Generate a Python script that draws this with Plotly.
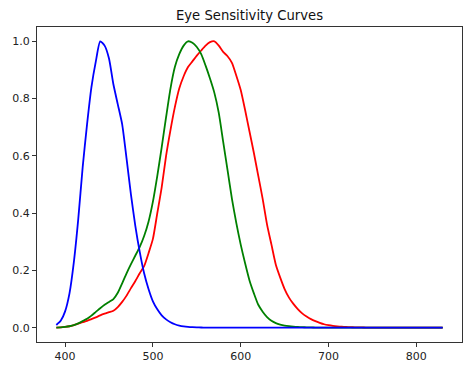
import plotly.graph_objects as go

# wavelengths (nm), 5 nm steps from 390 to 830
wavelength = list(range(390, 835, 5))

# L cone (red)
red = [0.0004, 0.001, 0.0025, 0.005, 0.009, 0.014, 0.019, 0.024, 0.030, 0.036,   # 390-435
       0.043, 0.049, 0.054, 0.059, 0.072, 0.090, 0.112, 0.138, 0.163, 0.190,      # 440-485
       0.215, 0.26, 0.31, 0.40, 0.49, 0.60, 0.69, 0.77, 0.835, 0.878,            # 490-535
       0.91, 0.93, 0.95, 0.968, 0.985, 0.997, 1.0, 0.985, 0.963, 0.948,          # 540-585
       0.925, 0.88, 0.83, 0.76, 0.685, 0.61, 0.53, 0.45, 0.36, 0.29,             # 590-635
       0.22, 0.175, 0.135, 0.105, 0.083, 0.065, 0.05, 0.039, 0.030, 0.023,       # 640-685
       0.017, 0.012, 0.0088, 0.0064, 0.0046, 0.0033, 0.0024, 0.0017, 0.0012, 0.0009,  # 690-735
       0.0006, 0.00045, 0.0003, 0.0002, 0.00015, 0.0001, 0.00007, 0.00005, 0.00004, 0.00003,  # 740-785
       0.00002, 0.000015, 0.00001, 0.000008, 0.000006, 0.000004, 0.000003, 0.000002, 0.0000015]  # 790-830

# M cone (green)
green = [0.0004, 0.001, 0.0025, 0.005, 0.009, 0.015, 0.023, 0.031, 0.042, 0.055,   # 390-435
         0.068, 0.080, 0.090, 0.100, 0.122, 0.155, 0.190, 0.222, 0.252, 0.282,     # 440-485
         0.32, 0.37, 0.44, 0.53, 0.63, 0.735, 0.835, 0.91, 0.955, 0.985,           # 490-535
         1.0, 0.995, 0.98, 0.955, 0.915, 0.87, 0.82, 0.75, 0.65, 0.55,             # 540-585
         0.45, 0.365, 0.29, 0.225, 0.165, 0.12, 0.08, 0.056, 0.037, 0.024,         # 590-635
         0.016, 0.011, 0.0075, 0.0052, 0.0036, 0.0025, 0.0017, 0.0012, 0.0008, 0.0005,  # 640-685
         0.00035, 0.00024, 0.00016, 0.00011, 0.00008, 0.00005, 0.00004, 0.00003, 0.00002, 0.000014,  # 690-735
         0.00001, 0.000007, 0.000005, 0.000004, 0.000003, 0.000002, 0.0000015, 0.000001, 0.0000008, 0.0000006,  # 740-785
         0.0000004, 0.0000003, 0.0000002, 0.00000015, 0.0000001, 0.00000008, 0.00000006, 0.00000004, 0.00000003]  # 790-830

# S cone (blue)
blue = [0.0095, 0.024, 0.057, 0.12, 0.23, 0.38, 0.56, 0.71, 0.84, 0.93,           # 390-435
        1.0, 0.985, 0.94, 0.85, 0.78, 0.71, 0.59, 0.465, 0.355, 0.265,           # 440-485
        0.19, 0.135, 0.092, 0.064, 0.043, 0.029, 0.019, 0.012, 0.0075, 0.0045,   # 490-535
        0.0027, 0.0016, 0.001, 0.0006, 0.0004, 0.00025, 0.00015, 0.0001, 0.00006, 0.00004,  # 540-585
        0.00002, 0.00001, 0.0, 0.0, 0.0, 0.0, 0.0, 0.0, 0.0, 0.0,                # 590-635
        0.0, 0.0, 0.0, 0.0, 0.0, 0.0, 0.0, 0.0, 0.0, 0.0,                        # 640-685
        0.0, 0.0, 0.0, 0.0, 0.0, 0.0, 0.0, 0.0, 0.0, 0.0,                        # 690-735
        0.0, 0.0, 0.0, 0.0, 0.0, 0.0, 0.0, 0.0, 0.0, 0.0,                        # 740-785
        0.0, 0.0, 0.0, 0.0, 0.0, 0.0, 0.0, 0.0, 0.0]                             # 790-830

assert len(red) == len(green) == len(blue) == len(wavelength)

x_ticks = [400, 500, 600, 700, 800]
y_ticks = [0.0, 0.2, 0.4, 0.6, 0.8, 1.0]

fig = go.Figure()
for vals, col in [(red, "#ff0000"), (green, "#008000"), (blue, "#0000ff")]:
    fig.add_trace(go.Scatter(x=wavelength, y=vals, mode="lines",
                             line=dict(color=col, width=1.8, shape="spline",
                                       smoothing=0.6),
                             showlegend=False, hoverinfo="skip"))

font = dict(family="DejaVu Sans", size=11, color="#222222")
axis_common = dict(showgrid=False, zeroline=False, showline=True, mirror=True,
                   linecolor="#333333", linewidth=1, ticks="outside", ticklen=4,
                   tickwidth=1, tickcolor="#333333", tickfont=font)

fig.update_layout(
    width=474, height=374,
    margin=dict(l=37, r=11, t=27, b=30),
    paper_bgcolor="white", plot_bgcolor="white",
    title=dict(text="Eye Sensitivity Curves", x=0.5, xref="paper", xanchor="center",
               y=1 - 15.5 / 374, yanchor="middle", yref="container",
               font=dict(family="DejaVu Sans", size=13.2, color="#111111")),
    xaxis=dict(range=[368, 852], tickvals=x_ticks,
               ticktext=[str(v) for v in x_ticks], **axis_common),
    yaxis=dict(range=[-0.05, 1.05], tickvals=y_ticks,
               ticktext=[f"{v:.1f}" for v in y_ticks], **axis_common),
)

fig.write_html("out.html")
